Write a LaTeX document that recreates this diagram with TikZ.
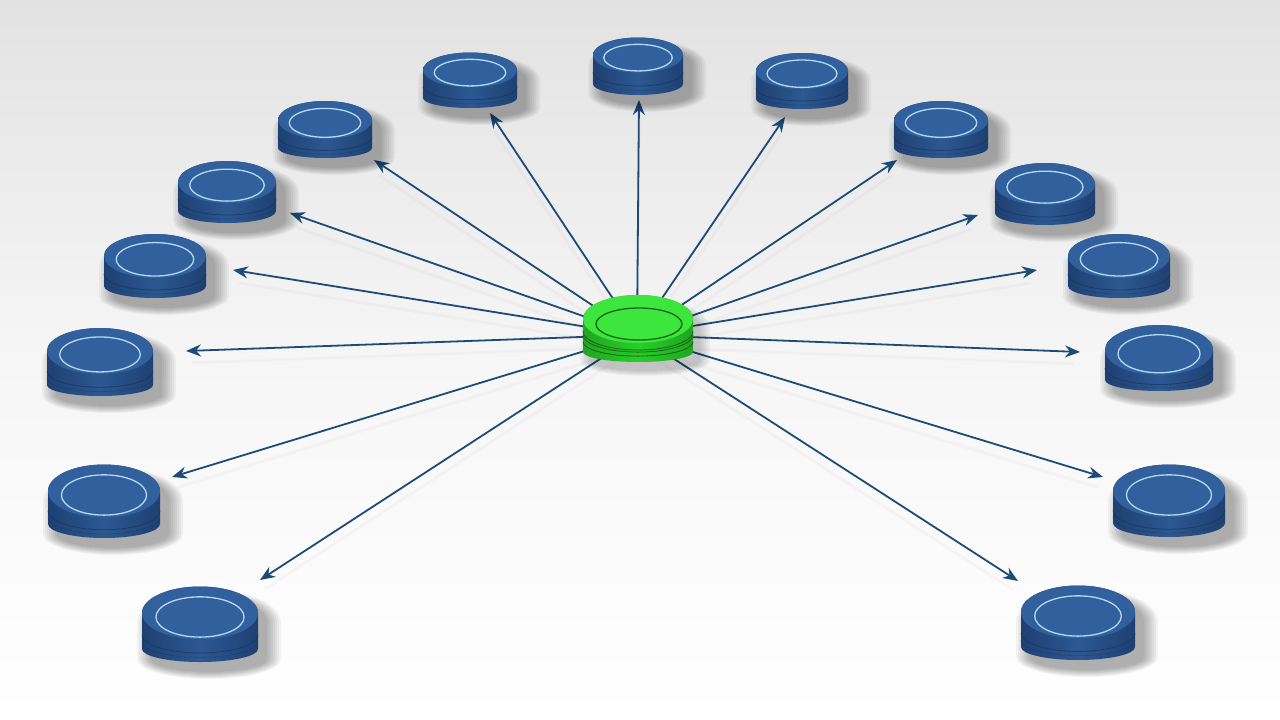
\documentclass[tikz,border=0pt]{standalone}
\usetikzlibrary{arrows.meta}
\definecolor{bgtop}{RGB}{226,226,226}
\definecolor{bgmid}{RGB}{246,246,246}
\definecolor{btop}{RGB}{50,96,156}
\definecolor{bside}{RGB}{44,88,146}
\definecolor{bdark}{RGB}{30,64,114}
\definecolor{bring}{RGB}{178,216,246}
\definecolor{gtop}{RGB}{60,230,60}
\definecolor{gside}{RGB}{40,206,40}
\definecolor{gline}{RGB}{22,100,22}
\definecolor{arr}{RGB}{30,74,120}
% silhouette: cx cy rx ry h b
\newcommand\coinsil[6]{({#1-(#3)},{#2}) arc[start angle=180,end angle=0,x radius={(#3)*1pt},y radius={(#4)*1pt}] -- ({#1+(#3)},{#2+(#5)}) arc[start angle=0,end angle=-180,x radius={(#3)*1pt},y radius={(#6)*1pt}] -- cycle}
% groove: cx cy rx ry h b fraction
\newcommand\coingroove[7]{({#1-(#3)},{#2+(#7)*(#5)}) arc[start angle=180,end angle=360,x radius={(#3)*1pt},y radius={((#4)+(#7)*((#6)-(#4)))*1pt}]}
% coin: name cx cy rx ry h b
\newcommand\bluecoin[7]{%
  \coordinate (#1) at (#2,#3);
  \foreach \k in {0,2,...,14}{\fill[black,opacity=0.045] \coinsil{#2+9}{#3+10}{#4+\k}{#5+0.5*\k}{#6}{#7+0.5*\k};}
  \shade[left color=bdark, right color=bdark, middle color=bside] \coinsil{#2}{#3}{#4}{#5}{#6}{#7};
  \draw[bdark!80!black, line width=0.8pt, opacity=0.7] \coingroove{#2}{#3}{#4}{#5}{#6}{#7}{0.6};
  \draw[bdark!80!black, line width=0.6pt, opacity=0.4] \coingroove{#2}{#3}{#4}{#5}{#6}{#7}{0.8};
  \fill[btop] (#2,#3) ellipse[x radius={(#4)*1pt}, y radius={(#5)*1pt}];
  \draw[bring, line width=1.3pt] (#2,{#3+0.15*(#5)}) ellipse[x radius={0.76*(#4)*1pt}, y radius={0.76*(#5)*1pt}];
}
\tikzset{
  link/.style={draw=arr, line width=1.8pt, -{Stealth[length=15pt,width=12pt,inset=5pt]}},
  linkshadow/.style={draw=black, line width=3pt, opacity=0.025, shorten >=6pt}
}
\begin{document}
\begin{tikzpicture}[x=1pt,y=-1pt]
\useasboundingbox (0,0) rectangle (1280,720);
% background
\shade[top color=bgtop, bottom color=white, middle color=bgmid] (0,0) rectangle (1280,720);
% hub and tips
\coordinate (c) at (637,335);
\coordinate (t1) at (490,113);
\coordinate (t2) at (639,100);
\coordinate (t3) at (785,117);
\coordinate (t4) at (897,160);
\coordinate (t5) at (978,215);
\coordinate (t6) at (1037,270);
\coordinate (t7) at (1080,352);
\coordinate (t8) at (1103,477);
\coordinate (t9) at (1018,581);
\coordinate (t10) at (260,580);
\coordinate (t11) at (172,477);
\coordinate (t12) at (186,351);
\coordinate (t13) at (233,270);
\coordinate (t14) at (290,213);
\coordinate (t15) at (374,160);
% arrow shadows
\foreach \i in {1,...,15}{\draw[linkshadow] ([yshift=-12pt]c) -- ([yshift=-12pt]t\i);}
% arrows
\foreach \i in {1,...,15}{\draw[link] (c) -- (t\i);}
% blue coins
\bluecoin{d1}{470}{70}{47}{17.5}{28}{10}
\bluecoin{d2}{638}{55}{45}{17.5}{29}{11}
\bluecoin{d3}{802}{71}{46}{18}{28}{10}
\bluecoin{d4}{941}{120}{47}{19}{28}{10}
\bluecoin{d5}{1045}{184}{50}{21}{29}{12}
\bluecoin{d6}{1119}{256}{51}{22}{30}{12}
\bluecoin{d7}{1159}{350}{54}{25}{30}{11}
\bluecoin{d8}{1169}{491}{56}{26.5}{32}{14}
\bluecoin{d9}{1078}{612}{57}{26.5}{35}{13}
\bluecoin{d10}{200}{613}{58}{26.5}{36}{13}
\bluecoin{d11}{104}{491}{56}{26.5}{33}{14}
\bluecoin{d12}{100}{351}{53}{23}{34}{11}
\bluecoin{d13}{155}{256}{51}{22}{30}{12}
\bluecoin{d14}{227}{182}{49}{21}{29}{12}
\bluecoin{d15}{325}{120}{47}{19}{28}{10}
% green hub coin
\coordinate (g) at (638,319);
\foreach \k in {0,2,...,10}{\fill[black,opacity=0.035] \coinsil{645}{328}{55+\k}{24+0.5*\k}{33}{10+0.5*\k};}
\shade[left color=gside!80!black, right color=gside!80!black, middle color=gside] \coinsil{638}{319}{55}{24}{33}{10};
\draw[gline, line width=0.8pt] \coingroove{638}{319}{55}{24}{33}{10}{0.37};
\draw[gline, line width=0.8pt] \coingroove{638}{319}{55}{24}{33}{10}{0.48};
\draw[gline, line width=0.8pt] \coingroove{638}{319}{55}{24}{33}{10}{0.69};
\fill[gtop] (g) ellipse[x radius=55pt, y radius=24pt];
\draw[gline, line width=1.3pt] (639,324) ellipse[x radius=43pt, y radius=16pt];
\end{tikzpicture}
\end{document}
